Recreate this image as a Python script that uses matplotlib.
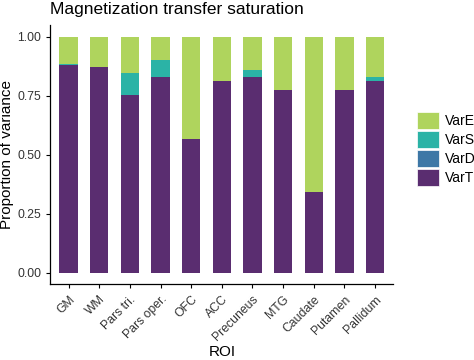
import matplotlib
matplotlib.use("Agg")
import matplotlib.pyplot as plt
from matplotlib.patches import Patch
import numpy as np

plt.rcParams['font.family'] = ['Liberation Sans', 'DejaVu Sans']

rois = ["GM", "WM", "Pars tri.", "Pars oper.", "OFC", "ACC", "Precuneus",
        "MTG", "Caudate", "Putamen", "Pallidum"]
var_t = [0.881, 0.871, 0.754, 0.832, 0.568, 0.813, 0.830, 0.777, 0.342, 0.777, 0.815]
var_d = [0, 0, 0, 0, 0, 0, 0, 0, 0, 0, 0]
var_s = [0.004, 0.0, 0.092, 0.069, 0.0, 0.0, 0.030, 0.0, 0.0, 0.0, 0.017]
var_e = [1 - t - d - s for t, d, s in zip(var_t, var_d, var_s)]

names = ["VarE", "VarS", "VarD", "VarT"]
colors = {"VarE": "#AFD45D", "VarS": "#2BB3A6", "VarD": "#3D77A6", "VarT": "#5A2D70"}

fig = plt.figure(figsize=(4.74, 3.6), dpi=100)
ax = fig.add_axes([0.106, 0.21, 0.724, 0.72])

x = np.arange(1, len(rois) + 1)
bottom = np.zeros(len(rois))
for name, vals in [("VarT", var_t), ("VarD", var_d), ("VarS", var_s), ("VarE", var_e)]:
    ax.bar(x, vals, width=0.6, bottom=bottom, color=colors[name], linewidth=0)
    bottom = bottom + np.array(vals)

ax.set_xlim(0.4, 11.6)
ax.set_ylim(-0.05, 1.05)
ax.set_yticks([0, 0.25, 0.5, 0.75, 1.0])
ax.set_yticklabels(["0.00", "0.25", "0.50", "0.75", "1.00"])
ax.set_xticks(x)
ax.set_xticklabels(rois, rotation=45, ha="right", rotation_mode="anchor")
ax.tick_params(axis="both", colors="#333333", labelsize=8.8, length=3, width=0.8)
ax.tick_params(axis="both", color="black")
for s in ["top", "right"]:
    ax.spines[s].set_visible(False)
for s in ["left", "bottom"]:
    ax.spines[s].set_linewidth(0.9)

ax.set_xlabel("ROI", fontsize=11, labelpad=1)
ax.set_ylabel("Proportion of variance", fontsize=11, labelpad=2)
ax.set_title("Magnetization transfer saturation", fontsize=12.5, loc="left", x=0.0, pad=8)

handles = [Patch(facecolor=colors[n], edgecolor="white", linewidth=0.5) for n in names]
fig.legend(handles, names, loc="upper left", bbox_to_anchor=(0.868, 0.705),
           frameon=False, fontsize=10, handlelength=1.55, handleheight=1.55,
           labelspacing=0.12, handletextpad=0.45, borderaxespad=0)

fig.savefig("out.png", dpi=100)
